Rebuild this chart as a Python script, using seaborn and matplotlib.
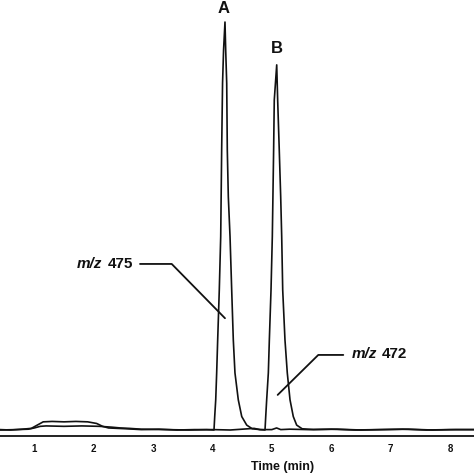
import matplotlib
matplotlib.use("Agg")
import matplotlib.pyplot as plt
import matplotlib.transforms as mtransforms
import pandas as pd
import seaborn as sns

# chromatogram traces (time in min, relative intensity)
time_475 = [0.42, 0.6, 0.8, 0.95, 1.05, 1.15, 1.3, 1.5, 1.7, 1.9,
            2.05, 2.15, 2.25, 2.4, 2.55, 2.8, 3.1, 3.4, 3.7, 3.9,
            4.026, 4.038, 4.055, 4.071, 4.088, 4.115, 4.139, 4.155, 4.17, 4.187, 4.211,
            4.223, 4.24, 4.25, 4.267, 4.296, 4.324, 4.351, 4.379, 4.435, 4.493, 4.577, 4.67,
            4.8, 5.0, 5.08, 5.15, 5.3, 5.6, 6.0, 6.4, 6.8, 7.2, 7.6, 8.0, 8.404]
int_475 = [0.1, 0.0, 0.2, 0.4, 1.2, 2.0, 2.1, 2.0, 2.1, 2.0,
           1.6, 0.9, 0.5, 0.4, 0.3, 0.1, 0.2, 0.0, 0.1, 0.1,
           0.0, 3.3, 7.4, 14.0, 22.1, 34.3, 47.4, 68.6, 85.0, 93.1, 100.0,
           93.1, 85.0, 68.6, 57.2, 47.4, 34.3, 22.1, 14.0, 7.4, 3.3, 1.2, 0.3,
           0.1, 0.1, 0.5, 0.1, 0.2, 0.1, 0.2, 0.0, 0.1, 0.2, 0.0, 0.1, 0.1]

time_472 = [0.42, 0.7, 0.9, 1.0, 1.1, 1.2, 1.5, 1.8, 2.1, 2.3,
            2.45, 2.6, 2.8, 3.2, 3.6, 4.0, 4.3, 4.6, 4.7, 4.8,
            4.885, 4.897, 4.913, 4.941, 4.958, 4.986, 5.008, 5.03, 5.041, 5.082,
            5.098, 5.125, 5.149, 5.166, 5.183, 5.221, 5.26, 5.306, 5.361, 5.418, 5.51,
            5.7, 6.1, 6.5, 6.9, 7.3, 7.7, 8.1, 8.404]
int_472 = [0.0, 0.1, 0.2, 0.5, 0.9, 1.0, 0.9, 1.0, 0.9, 0.7,
           0.5, 0.4, 0.2, 0.1, 0.0, 0.1, 0.0, 0.3, 0.4, 0.1,
           0.0, 3.3, 7.4, 14.0, 22.1, 34.3, 47.4, 68.6, 80.9, 89.5,
           80.9, 68.6, 57.2, 47.4, 34.3, 22.1, 14.0, 7.4, 3.3, 1.2, 0.3,
           0.1, 0.2, 0.0, 0.1, 0.2, 0.0, 0.1, 0.1]

x_ticks = [1, 2, 3, 4, 5, 6, 7, 8]
peak_labels = ["A", "B"]
ion_labels = ["475", "472"]

INK = "#111111"

sns.set_style("white")
plt.rcParams["font.family"] = ["Liberation Sans", "DejaVu Sans"]
plt.rcParams["text.color"] = INK
plt.rcParams["xtick.color"] = INK

df = pd.concat([
    pd.DataFrame({"time": time_475, "intensity": int_475, "trace": "m/z 475"}),
    pd.DataFrame({"time": time_472, "intensity": int_472, "trace": "m/z 472"}),
])

fig = plt.figure(figsize=(4.74, 4.74), dpi=100)
ax = fig.add_axes([0, 38 / 474, 1, 436 / 474])

sns.lineplot(data=df, x="time", y="intensity", hue="trace", units="trace",
             estimator=None, palette=[INK, INK], linewidth=1.2,
             legend=False, ax=ax)

ax.set_xlim(0.4226, 8.404)
ax.set_ylim(-1.47, 105.4)
ax.set_xticks(x_ticks)
ax.set_xticklabels([str(t) for t in x_ticks], fontsize=7, fontweight="bold")
ax.set_yticks([])
ax.set_xlabel("")
ax.set_ylabel("")
ax.tick_params(axis="x", direction="out", length=4, width=1.0, pad=2, color=INK)
for side in ["top", "left", "right"]:
    ax.spines[side].set_visible(False)
ax.spines["bottom"].set_linewidth(1.3)
ax.spines["bottom"].set_color(INK)

# peak letters above the apexes
ax.text(4.195, 103.3, peak_labels[0], ha="center", va="center", fontsize=12, fontweight="bold")
ax.text(5.093, 93.5, peak_labels[1], ha="center", va="center", fontsize=12, fontweight="bold")


def ion_label(x, y, number, align):
    # italic "m/z" next to the bold ion mass
    if align == "right":
        ax.text(x, y, number, ha="right", va="center", fontsize=11, fontweight="bold")
        shift = mtransforms.offset_copy(ax.transData, fig=fig, x=-31, y=0, units="dots")
        ax.text(x, y, "m/z", ha="right", va="center", fontsize=11, fontweight="bold",
                fontstyle="italic", transform=shift)
    else:
        ax.text(x, y, "m/z", ha="left", va="center", fontsize=11, fontweight="bold",
                fontstyle="italic")
        shift = mtransforms.offset_copy(ax.transData, fig=fig, x=30, y=0, units="dots")
        ax.text(x, y, number, ha="left", va="center", fontsize=11, fontweight="bold",
                transform=shift)


ion_label(2.662, 40.7, ion_labels[0], "right")
ax.plot([2.78, 3.314, 4.211], [40.7, 40.7, 27.4], color=INK, linewidth=1.3)
ion_label(6.345, 18.55, ion_labels[1], "left")
ax.plot([6.203, 5.782, 5.098], [18.4, 18.4, 8.6], color=INK, linewidth=1.3)

fig.text(283 / 474, 1 - 466.7 / 474, "Time (min)", ha="center", va="center",
         fontsize=9, fontweight="bold")

fig.savefig("out.png", dpi=100)
